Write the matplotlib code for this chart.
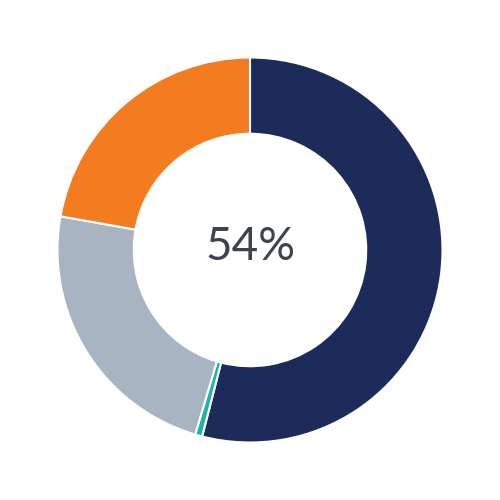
import matplotlib
matplotlib.use("Agg")
import matplotlib.pyplot as plt

labels = ["Navy", "Teal", "Gray", "Orange"]
values = [54.0, 0.6, 23.2, 22.2]
colors = ["#1c2b5a", "#1fb3b0", "#a9b4c2", "#f47c20"]
center_label = "54%"

fig = plt.figure(figsize=(5, 5), dpi=100)
ax = fig.add_axes([0, 0, 1, 1])

ax.pie(values, colors=colors, startangle=90, counterclock=False,
       radius=0.77,
       wedgeprops=dict(width=0.305, edgecolor="white", linewidth=1.5))
ax.text(0, 0.01, center_label, ha="center", va="center", fontsize=33,
        family="Lato", fontweight="normal", color="#3b4350")
ax.set_xlim(-1, 1)
ax.set_ylim(-1, 1)
ax.set_aspect("equal")
ax.axis("off")

fig.savefig("out.png", dpi=100, facecolor="white")
